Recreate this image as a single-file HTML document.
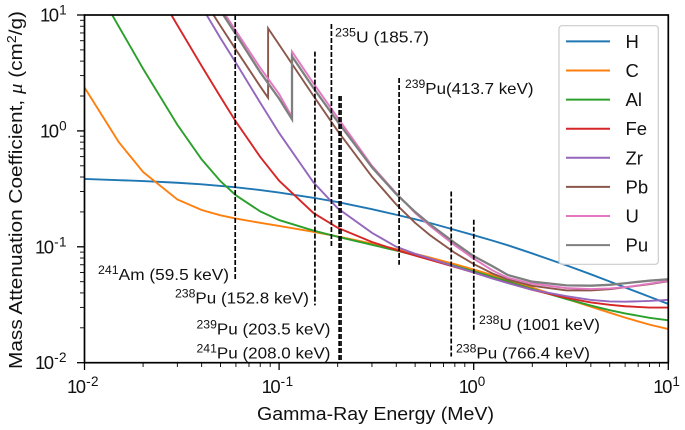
<!DOCTYPE html>
<html>
<head>
<meta charset="utf-8">
<style>
html,body{margin:0;padding:0;background:#fff;}
svg{display:block;}
text{font-family:"Liberation Sans",sans-serif;fill:#111;}
</style>
</head>
<body>
<svg id="chart" width="685" height="430" viewBox="0 0 685 430" xmlns="http://www.w3.org/2000/svg">
<defs><clipPath id="plot-clip"><rect x="84.5" y="15" width="583.8" height="347.7"/></clipPath></defs>
<g id="grid-layer" clip-path="url(#plot-clip)"></g>
<g id="axes-layer"></g>

<text transform="translate(22,190) rotate(-90)" text-anchor="middle" font-size="18.5" textLength="358" lengthAdjust="spacingAndGlyphs">Mass Attenuation Coefficient, <tspan font-style="italic" font-family="Liberation Serif">μ</tspan> (cm<tspan dy="-6" font-size="12.5">2</tspan><tspan dy="6">/g)</tspan></text>
<text x="257" y="420" font-size="18.5" textLength="237" lengthAdjust="spacingAndGlyphs">Gamma-Ray Energy (MeV)</text>

<g font-size="16">
<text x="98" y="280" textLength="131" lengthAdjust="spacingAndGlyphs"><tspan dy="-6" font-size="11.5">241</tspan><tspan dy="6">Am (59.5 keV)</tspan></text>
<text x="175" y="303.5" textLength="134" lengthAdjust="spacingAndGlyphs"><tspan dy="-6" font-size="11.5">238</tspan><tspan dy="6">Pu (152.8 keV)</tspan></text>
<text x="196.5" y="334.5" textLength="134" lengthAdjust="spacingAndGlyphs"><tspan dy="-6" font-size="11.5">239</tspan><tspan dy="6">Pu (203.5 keV)</tspan></text>
<text x="196.5" y="358.5" textLength="134" lengthAdjust="spacingAndGlyphs"><tspan dy="-6" font-size="11.5">241</tspan><tspan dy="6">Pu (208.0 keV)</tspan></text>
<text x="335" y="42.5" textLength="94" lengthAdjust="spacingAndGlyphs"><tspan dy="-6" font-size="11.5">235</tspan><tspan dy="6">U (185.7)</tspan></text>
<text x="405" y="94" textLength="128.500" lengthAdjust="spacingAndGlyphs"><tspan dy="-6" font-size="11.5">239</tspan><tspan dy="6">Pu(413.7 keV)</tspan></text>
<text x="479" y="330" textLength="121" lengthAdjust="spacingAndGlyphs"><tspan dy="-6" font-size="11.5">238</tspan><tspan dy="6">U (1001 keV)</tspan></text>
<text x="456" y="358.500" textLength="134" lengthAdjust="spacingAndGlyphs"><tspan dy="-6" font-size="11.5">238</tspan><tspan dy="6">Pu (766.4 keV)</tspan></text>
</g>

<g id="legend-layer"></g>
</svg>
<script>
// ---- data ----
const energyFull = [0.01,0.015,0.02,0.03,0.04,0.05,0.06,0.08,0.1,0.15,0.2,0.3,0.4,0.5,0.6,0.8,1,1.25,1.5,2,3,4,5,6,8,10];
const energyZr = [0.03,0.04,0.05,0.06,0.08,0.1,0.15,0.2,0.3,0.4,0.5,0.6,0.8,1,1.25,1.5,2,3,4,5,6,8,10];
const energyPb = [0.03,0.04,0.05,0.06,0.08,0.0878,0.0878,0.1,0.15,0.2,0.3,0.4,0.5,0.6,0.8,1,1.25,1.5,2,3,4,5,6,8,10];
const energyU = [0.04,0.05,0.06,0.08,0.1,0.1165,0.1165,0.15,0.2,0.3,0.4,0.5,0.6,0.8,1,1.25,1.5,2,3,4,5,6,8,10];
const energyPu = [0.04,0.05,0.06,0.08,0.1,0.1165,0.1165,0.15,0.2,0.3,0.4,0.5,0.6,0.8,1,1.25,1.5,2,3,4,5,6,8,10];

const muH = [0.385,0.376,0.369,0.357,0.346,0.335,0.326,0.309,0.294,0.265,0.243,0.211,0.189,0.173,0.160,0.140,0.126,0.113,0.103,0.0876,0.0691,0.0579,0.0502,0.0446,0.0371,0.0321];
const muC = [2.37,0.80,0.442,0.256,0.2076,0.1871,0.1753,0.161,0.1514,0.1347,0.1229,0.1066,0.0955,0.0871,0.0806,0.0708,0.0636,0.0569,0.0518,0.0444,0.0356,0.0304,0.0270,0.0245,0.0213,0.0195];
const muAl = [26.2,7.96,3.44,1.13,0.568,0.368,0.278,0.202,0.170,0.138,0.122,0.104,0.0928,0.0845,0.0780,0.0684,0.0615,0.0550,0.0501,0.0432,0.0354,0.0311,0.0284,0.0266,0.0244,0.0232];
const muFe = [170,57.1,25.7,8.18,3.63,1.96,1.20,0.596,0.372,0.196,0.146,0.110,0.094,0.084,0.077,0.067,0.060,0.0534,0.0488,0.0425,0.0362,0.0331,0.0316,0.0307,0.0299,0.0299];
const muZr = [27,11.8,6.3,3.86,1.75,0.96,0.36,0.215,0.132,0.10,0.087,0.079,0.0675,0.060,0.0532,0.0486,0.0425,0.0375,0.0348,0.0338,0.0336,0.0341,0.0349];
const muPb = [30.3,14.4,8.04,5.02,2.42,1.93,7.67,5.55,2.01,0.999,0.403,0.232,0.161,0.125,0.0887,0.0710,0.0588,0.0522,0.0461,0.0420,0.0420,0.0431,0.0447,0.0476,0.0505];
const muU = [21,11.6,7.3,3.5,2.08,1.32,4.83,2.58,1.3,0.5,0.29,0.196,0.15,0.103,0.079,0.0625,0.054,0.048,0.0440,0.0432,0.0437,0.0448,0.048,0.051];
const muPu = [20,10.9,6.8,3.2,1.9,1.26,4.4,2.35,1.2,0.485,0.285,0.2,0.155,0.108,0.083,0.068,0.057,0.05,0.0465,0.0462,0.047,0.0485,0.051,0.0525];

const peakEnergyKeV = [59.5,152.8,185.7,203.5,208.0,413.7,766.4,1001];
const peakTop = [10,4.83,8.36,2,2,2.86,0.30,0.171];
const peakBottom = [0.052,0.0312,0.0994,0.01,0.01,0.07,0.0113,0.0186];

const seriesNames = ["H","C","Al","Fe","Zr","Pb","U","Pu"];
const seriesX = [energyFull,energyFull,energyFull,energyFull,energyZr,energyPb,energyU,energyPu];
const seriesY = [muH,muC,muAl,muFe,muZr,muPb,muU,muPu];
const seriesColors = ["#1f77b4","#ff7f0e","#2ca02c","#d62728","#9467bd","#8c564b","#e377c2","#7f7f7f"];

const majorTickExps = [-2,-1,0,1];
const minorFactors = [2,3,4,5,6,7,8,9];
const yTickExps = [-2,-1,0,1];

// ---- axis functions ----
const NS = "http://www.w3.org/2000/svg";
const xLeft = 84.5, xDecade = 194.6, yTop = 15, yDecade = 115.9;
function xScale(v){ return xLeft + (Math.log10(v) + 2) * xDecade; }
function yScale(v){ return yTop + (1 - Math.log10(v)) * yDecade; }
function make(tag, attrs, parent){
  const el = document.createElementNS(NS, tag);
  for (const k in attrs) el.setAttribute(k, attrs[k]);
  parent.appendChild(el);
  return el;
}

const plot = document.getElementById("grid-layer");
const axes = document.getElementById("axes-layer");
const legend = document.getElementById("legend-layer");

// series lines
seriesNames.forEach(function(name, i){
  const d = seriesX[i].map(function(e, j){
    return (j ? "L" : "M") + xScale(e).toFixed(2) + " " + yScale(seriesY[i][j]).toFixed(2);
  }).join("");
  const p = make("path", {d: d, fill: "none", stroke: seriesColors[i], "stroke-width": name === "Pu" ? 2.3 : 1.9, "stroke-linejoin": "miter"}, plot);
  
  
});

// dashed peak markers
peakEnergyKeV.forEach(function(k, i){
  const x = xScale(k / 1000);
  const l = make("line", {x1: x, x2: x, y1: yScale(peakTop[i]), y2: yScale(peakBottom[i]), stroke: "#000", "stroke-width": 1.7, "stroke-dasharray": "5 2"}, plot);
  
  
});

// frame
const frame = make("rect", {x: xLeft, y: yTop, width: 583.8, height: 347.7, fill: "none", stroke: "#000", "stroke-width": 1.7}, axes);



function powerLabel(x, y, exp){
  const t = make("text", {x: x, y: y, "font-size": 18.5}, axes);
  
  
  const a = make("tspan", {"letter-spacing": -1.5}, t);
  a.textContent = "10";
  const b = make("tspan", {dy: -7, dx: 1.5, "font-size": 13.5, "letter-spacing": 0.4}, t);
  b.textContent = String(exp);
  return t;
}

// x ticks
majorTickExps.forEach(function(exp){
  const v = Math.pow(10, exp);
  const x = xScale(v);
  const tk = make("line", {x1: x, x2: x, y1: 362.7, y2: 370, stroke: "#000", "stroke-width": 1.3}, axes);
  
  
  powerLabel(exp < 0 ? x - 17.5 : x - 15, 393, exp);
  if (exp < 1) minorFactors.forEach(function(f){
    const mx = xScale(v * f);
    const m = make("line", {x1: mx, x2: mx, y1: 362.7, y2: 367, stroke: "#000", "stroke-width": 0.9}, axes);
    
    
  });
});

// y ticks
yTickExps.forEach(function(exp){
  const v = Math.pow(10, exp);
  const y = yScale(v);
  const tk = make("line", {x1: 77, x2: xLeft, y1: y, y2: y, stroke: "#000", "stroke-width": 1.3}, axes);
  
  
  powerLabel(exp < 0 ? 35 : 40, y + 6.5, exp);
  if (exp < 1) minorFactors.forEach(function(f){
    const my = yScale(v * f);
    const m = make("line", {x1: 80, x2: xLeft, y1: my, y2: my, stroke: "#000", "stroke-width": 0.9}, axes);
    
    
  });
});

// legend
const box = make("rect", {x: 559, y: 25.7, width: 99.3, height: 238.6, rx: 3, ry: 3, fill: "#fff", "fill-opacity": 0.8, stroke: "#ccc", "stroke-width": 1.2}, legend);


seriesNames.forEach(function(name, i){
  const ly = 41.4 + i * 29.1;
  const sw = make("line", {x1: 566, x2: 610, y1: ly, y2: ly, stroke: seriesColors[i], "stroke-width": 2}, legend);
  
  
  const t = make("text", {x: 625.5, y: ly + 6.5, "font-size": 18.5}, legend);
  
  
  t.textContent = name;
});
</script>
</body>
</html>
